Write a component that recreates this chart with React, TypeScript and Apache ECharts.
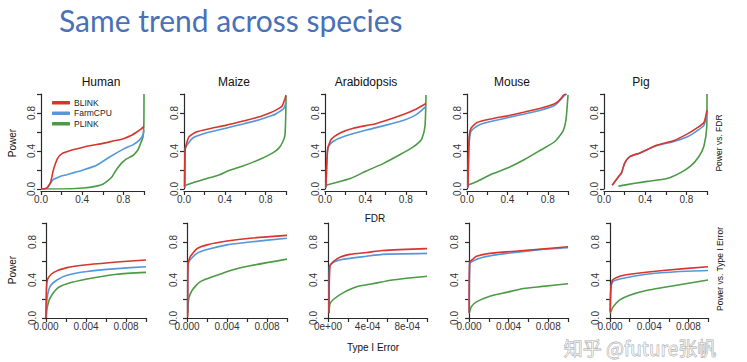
import React, { useEffect, useRef } from "react";
import * as echarts from "echarts";

// ---------- data ----------
const species = ["Human", "Maize", "Arabidopsis", "Mouse", "Pig"];
const methods = ["BLINK", "FarmCPU", "PLINK"];
const methodColors = ["#d7352d", "#5597dc", "#4c9a45"];

// Power vs FDR (top row)
const humanFdrBlink = [[0,0],[0.05,0.005],[0.09,0.06],[0.12,0.2],[0.16,0.32],[0.2,0.37],[0.3,0.41],[0.41,0.44],[0.5,0.46],[0.6,0.48],[0.7,0.505],[0.8,0.53],[0.88,0.565],[0.93,0.6],[0.97,0.63],[1.0,0.66]];
const humanFdrFarmcpu = [[0,0],[0.05,0.005],[0.09,0.06],[0.12,0.1],[0.18,0.13],[0.25,0.15],[0.33,0.175],[0.41,0.2],[0.54,0.25],[0.67,0.34],[0.8,0.42],[0.9,0.47],[0.96,0.52],[0.99,0.57],[1.0,0.62]];
const humanFdrPlink = [[0,0],[0.2,0],[0.41,0.01],[0.54,0.03],[0.6,0.05],[0.64,0.08],[0.69,0.13],[0.73,0.2],[0.78,0.27],[0.82,0.31],[0.87,0.34],[0.9,0.36],[0.94,0.41],[0.96,0.46],[0.99,0.55],[0.999,0.7],[1.0,1.0]];

const maizeFdrBlink = [[0.005,0.02],[0.01,0.39],[0.02,0.46],[0.05,0.55],[0.12,0.6],[0.25,0.635],[0.41,0.67],[0.58,0.715],[0.74,0.76],[0.84,0.8],[0.9,0.83],[0.96,0.87],[0.99,0.95],[1.0,0.99]];
const maizeFdrFarmcpu = [[0.01,0.01],[0.013,0.43],[0.04,0.48],[0.09,0.54],[0.2,0.585],[0.41,0.64],[0.58,0.685],[0.74,0.73],[0.84,0.765],[0.9,0.79],[0.98,0.85],[1.0,0.92]];
const maizeFdrPlink = [[0.015,0.04],[0.1,0.07],[0.19,0.1],[0.35,0.15],[0.43,0.19],[0.57,0.24],[0.74,0.31],[0.87,0.38],[0.93,0.43],[0.97,0.5],[0.99,0.57],[0.998,0.8],[1.0,0.98]];

const arabFdrBlink = [[0.01,0.02],[0.025,0.41],[0.06,0.52],[0.15,0.59],[0.28,0.64],[0.51,0.69],[0.74,0.77],[0.9,0.84],[1.0,0.9]];
const arabFdrFarmcpu = [[0.01,0.01],[0.03,0.44],[0.08,0.5],[0.18,0.55],[0.41,0.62],[0.74,0.71],[0.9,0.78],[1.0,0.87]];
const arabFdrPlink = [[0.01,0.04],[0.08,0.06],[0.25,0.11],[0.41,0.19],[0.58,0.27],[0.74,0.36],[0.87,0.44],[0.93,0.49],[0.96,0.53],[0.99,0.66],[1.0,0.99]];

const mouseFdrBlink = [[0.01,0.02],[0.02,0.52],[0.04,0.64],[0.1,0.7],[0.25,0.74],[0.4,0.77],[0.57,0.81],[0.73,0.85],[0.85,0.89],[0.9,0.92],[0.96,0.99],[0.98,1.0]];
const mouseFdrFarmcpu = [[0.01,0.01],[0.02,0.45],[0.04,0.61],[0.13,0.68],[0.4,0.75],[0.57,0.79],[0.73,0.83],[0.85,0.87],[0.9,0.91],[0.97,0.99],[0.99,1.0]];
const mouseFdrPlink = [[0.0,0.04],[0.1,0.08],[0.23,0.15],[0.4,0.22],[0.57,0.31],[0.73,0.41],[0.87,0.5],[0.95,0.61],[0.98,0.73],[1.0,0.99]];

const pigFdrBlink = [[0.08,0.04],[0.14,0.13],[0.17,0.17],[0.2,0.27],[0.25,0.34],[0.35,0.38],[0.51,0.46],[0.68,0.51],[0.81,0.58],[0.9,0.64],[0.97,0.7],[1.0,0.83]];
const pigFdrFarmcpu = [[0.08,0.04],[0.14,0.13],[0.17,0.17],[0.2,0.27],[0.25,0.34],[0.35,0.38],[0.51,0.455],[0.68,0.5],[0.81,0.55],[0.9,0.61],[0.97,0.67],[1.0,0.81]];
const pigFdrPlink = [[0.14,0.03],[0.3,0.06],[0.42,0.08],[0.61,0.11],[0.74,0.17],[0.84,0.24],[0.92,0.34],[0.97,0.45],[0.998,0.66],[1.0,1.0]];

// Power vs Type I Error (bottom row)
const humanT1Blink = [[0,0],[0.00003,0.26],[0.0001,0.38],[0.00027,0.43],[0.00077,0.48],[0.0021,0.53],[0.0041,0.56],[0.0071,0.59],[0.01,0.61]];
const humanT1Farmcpu = [[0,0],[0.0001,0.2],[0.0004,0.33],[0.0011,0.4],[0.0021,0.45],[0.0041,0.49],[0.0071,0.52],[0.01,0.54]];
const humanT1Plink = [[0,0],[0.0001,0.1],[0.0004,0.21],[0.0011,0.31],[0.0021,0.36],[0.0041,0.41],[0.0071,0.46],[0.01,0.48]];

const maizeT1Blink = [[0.00007,0.01],[0.0001,0.55],[0.0003,0.64],[0.001,0.73],[0.002,0.77],[0.004,0.81],[0.0063,0.84],[0.01,0.87]];
const maizeT1Farmcpu = [[0.00007,0.05],[0.0001,0.57],[0.0003,0.61],[0.001,0.68],[0.002,0.72],[0.004,0.77],[0.0063,0.8],[0.01,0.84]];
const maizeT1Plink = [[0.00007,0.05],[0.00017,0.2],[0.0005,0.29],[0.0013,0.38],[0.003,0.45],[0.0047,0.51],[0.0063,0.55],[0.01,0.62]];

const arabT1Blink = [[0.00001,0.05],[0.00002,0.55],[0.00006,0.6],[0.00012,0.64],[0.00022,0.67],[0.00039,0.69],[0.00055,0.71],[0.00072,0.72],[0.001,0.73]];
const arabT1Farmcpu = [[0.00001,0.06],[0.000015,0.54],[0.00006,0.59],[0.00016,0.62],[0.00039,0.65],[0.00055,0.67],[0.001,0.68]];
const arabT1Plink = [[0.00001,0.05],[0.00002,0.15],[0.00006,0.2],[0.00016,0.27],[0.00029,0.33],[0.00045,0.36],[0.00065,0.4],[0.001,0.44]];

const mouseT1Blink = [[0.00002,0.05],[0.00007,0.59],[0.0004,0.62],[0.00075,0.65],[0.0021,0.68],[0.0055,0.71],[0.01,0.75]];
const mouseT1Farmcpu = [[0.00002,0.06],[0.00007,0.57],[0.0004,0.6],[0.0014,0.64],[0.0038,0.68],[0.0072,0.72],[0.01,0.74]];
const mouseT1Plink = [[0.00002,0.05],[0.00024,0.12],[0.00075,0.17],[0.0021,0.23],[0.0038,0.27],[0.0055,0.31],[0.0072,0.33],[0.01,0.36]];

const pigT1Blink = [[0.00002,0.06],[0.0001,0.33],[0.00027,0.4],[0.001,0.44],[0.002,0.46],[0.0054,0.5],[0.01,0.54]];
const pigT1Farmcpu = [[0.00002,0.08],[0.00007,0.29],[0.00027,0.38],[0.001,0.41],[0.0037,0.46],[0.0071,0.49],[0.01,0.5]];
const pigT1Plink = [[0.00002,0.05],[0.00034,0.12],[0.001,0.19],[0.002,0.24],[0.0037,0.29],[0.0071,0.35],[0.01,0.4]];

const fdrRow = [
  [humanFdrBlink, humanFdrFarmcpu, humanFdrPlink],
  [maizeFdrBlink, maizeFdrFarmcpu, maizeFdrPlink],
  [arabFdrBlink, arabFdrFarmcpu, arabFdrPlink],
  [mouseFdrBlink, mouseFdrFarmcpu, mouseFdrPlink],
  [pigFdrBlink, pigFdrFarmcpu, pigFdrPlink],
];
const t1Row = [
  [humanT1Blink, humanT1Farmcpu, humanT1Plink],
  [maizeT1Blink, maizeT1Farmcpu, maizeT1Plink],
  [arabT1Blink, arabT1Farmcpu, arabT1Plink],
  [mouseT1Blink, mouseT1Farmcpu, mouseT1Plink],
  [pigT1Blink, pigT1Farmcpu, pigT1Plink],
];
// x-axis max for the Type I Error row
const t1Max = [0.01, 0.01, 0.001, 0.01, 0.01];

// ---------- layout ----------
const topGrids = [
  { left: 41, width: 103 },
  { left: 184, width: 102 },
  { left: 325, width: 101 },
  { left: 467, width: 101 },
  { left: 604, width: 103 },
];
const bottomGrids = [
  { left: 46, width: 100, off: 4 },
  { left: 187, width: 100, off: 4 },
  { left: 328, width: 99, off: 5 },
  { left: 469, width: 99, off: 5 },
  { left: 610, width: 98, off: 5 },
];
const titleX = [101, 234, 366, 512, 641];

const FONT = "'Liberation Sans', Arial, Helvetica, sans-serif";
const AX = "#2a2a2a";

function yAxisDef(gridIndex: number, offset: number) {
  return {
    type: "value",
    gridIndex,
    min: 0,
    max: 1,
    interval: 0.2,
    offset,
    axisLine: { show: true, lineStyle: { color: AX, width: 1.2 } },
    axisTick: { show: true, length: 4, lineStyle: { color: AX, width: 1.2 } },
    splitLine: { show: false },
    axisLabel: {
      rotate: 90,
      margin: 5,
      fontFamily: FONT,
      fontSize: 10,
      color: "#333",
      formatter: (v: number) => {
        const i = Math.round(v / 0.2);
        return i % 2 === 0 && i < 5 ? (i * 0.2).toFixed(1) : "";
      },
    },
  };
}

function xAxisDef(gridIndex: number, max: number, offset: number) {
  const step = max / 5;
  return {
    type: "value",
    gridIndex,
    min: 0,
    max,
    interval: step,
    offset,
    axisLine: { show: true, onZero: false, lineStyle: { color: AX, width: 1.2 } },
    axisTick: { show: true, length: 4, lineStyle: { color: AX, width: 1.2 } },
    splitLine: { show: false },
    axisLabel: {
      margin: 3,
      fontFamily: FONT,
      fontSize: 10,
      color: "#333",
      showMaxLabel: true,
      formatter: (v: number) => {
        const i = Math.round(v / step);
        if (i % 2 !== 0 || i > 4) return "";
        const val = i * step;
        if (max === 1) return val.toFixed(1);
        if (max === 0.01) return val.toFixed(3);
        if (i === 0) return "0e+00";
        return `${Math.round(val * 10000)}e-04`;
      },
    },
  };
}

export default function App() {
  const ref = useRef<HTMLDivElement>(null);
  useEffect(() => {
    if (!ref.current) return;
    const chart = echarts.init(ref.current, undefined, { renderer: "svg" });
    const grid: any[] = [];
    const xAxis: any[] = [];
    const yAxis: any[] = [];
    const series: any[] = [];

    const addSeries = (idx: number, sets: number[][][]) => {
      [2, 1, 0].forEach((m) => {
        series.push({
          type: "line",
          name: methods[m],
          xAxisIndex: idx,
          yAxisIndex: idx,
          data: sets[m],
          showSymbol: false,
          smooth: 0.2,
          lineStyle: { color: methodColors[m], width: 1.6 },
          itemStyle: { color: methodColors[m] },
          silent: true,
        });
      });
    };

    species.forEach((_, i) => {
      grid.push({ left: topGrids[i].left, width: topGrids[i].width, top: 94, height: 95 });
      xAxis.push(xAxisDef(i, 1, 2));
      yAxis.push(yAxisDef(i, 0));
      addSeries(i, fdrRow[i]);
    });
    species.forEach((_, i) => {
      const gi = i + 5;
      grid.push({ left: bottomGrids[i].left, width: bottomGrids[i].width, top: 223, height: 95 });
      xAxis.push(xAxisDef(gi, t1Max[i], 0));
      yAxis.push(yAxisDef(gi, bottomGrids[i].off));
      addSeries(gi, t1Row[i]);
    });

    const txt = (text: string, x: number, y: number, size: number, extra: any = {}) => ({
      type: "text",
      x,
      y,
      silent: true,
      ...extra,
      style: {
        text,
        fontFamily: FONT,
        fontSize: size,
        fill: "#111",
        align: "center",
        verticalAlign: "middle",
        ...(extra.style || {}),
      },
    });

    const graphic: any[] = [
      txt("Same trend across species", 59, 20, 30, {
        style: { fontFamily: "Lato, 'Open Sans', sans-serif", fill: "#4a70b6", align: "left" },
      }),
      ...species.map((s, i) => txt(s, titleX[i], 82, 12)),
      txt("Power", 12, 143, 10, { rotation: Math.PI / 2 }),
      txt("Power", 12, 270, 10, { rotation: Math.PI / 2 }),
      txt("FDR", 375, 218, 10),
      txt("Type I Error", 373, 347, 10),
      txt("Power vs. FDR", 719, 143, 8.5, { rotation: Math.PI / 2 }),
      txt("Power vs. Type I Error", 720, 269, 8.5, { rotation: Math.PI / 2 }),
      txt("知乎 @future张帆", 640, 347, 19, {
        z: 100,
        style: {
          fontFamily: "'Noto Sans CJK SC', sans-serif",
          fill: "rgba(255,255,255,0.55)",
          stroke: "rgba(150,150,150,0.85)",
          lineWidth: 0.8,
        },
      }),
    ];

    chart.setOption({
      animation: false,
      backgroundColor: "#ffffff",
      grid,
      xAxis,
      yAxis,
      series,
      legend: {
        data: methods,
        orient: "vertical",
        left: 52,
        top: 98,
        padding: 0,
        itemGap: 1,
        itemWidth: 18,
        itemHeight: 3.5,
        icon: "roundRect",
        selectedMode: false,
        textStyle: { fontFamily: FONT, fontSize: 8.5, color: "#222", lineHeight: 9.5, padding: [0, 0, 0, -1] },
      },
      graphic,
    });
    return () => chart.dispose();
  }, []);
  return (
    <div
      ref={ref}
      style={{ position: "absolute", left: 0, top: 0, width: 747, height: 362, background: "#fff" }}
    />
  );
}
